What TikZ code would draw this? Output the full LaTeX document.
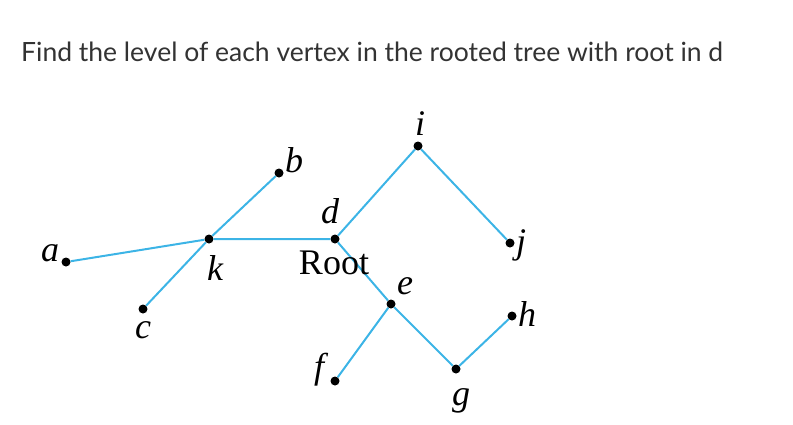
\documentclass[tikz,border=0pt]{standalone}
\usepackage{fontspec}
\setmainfont{Liberation Serif}
\newfontfamily\lato{Lato}
\definecolor{edge}{RGB}{60,180,230}
\begin{document}
\begin{tikzpicture}[x=1pt,y=-1pt,
  vtx/.style={circle,fill=black,inner sep=0pt,minimum size=9pt},
  lab/.style={font=\fontsize{36}{38}\selectfont\itshape,inner sep=0pt},
  edg/.style={edge,line width=2pt}]
\useasboundingbox (0,0) rectangle (793,424);
\node[anchor=west,font=\lato\fontsize{26.5}{30}\selectfont,text=black!80,inner sep=0pt] (t) at (21,52) {Find the level of each vertex in the rooted tree with root in d};
\node[vtx] (a) at (66,262) {};
\node[vtx] (k) at (209,239) {};
\node[vtx] (b) at (279,173) {};
\node[vtx] (c) at (143,309) {};
\node[vtx] (d) at (335,239) {};
\node[vtx] (i) at (418,146) {};
\node[vtx] (j) at (510,243) {};
\node[vtx] (e) at (391,304) {};
\node[vtx] (f) at (335,381) {};
\node[vtx] (g) at (456,369) {};
\node[vtx] (h) at (512,316) {};
\draw[edg] (a)--(k) (k)--(b) (k)--(c) (k)--(d) (d)--(i) (i)--(j) (d)--(e) (e)--(g) (e)--(f) (g)--(h);
\node[lab] (la) at (50,253) {a};
\node[lab] (lb) at (294,160) {b};
\node[lab] (lc) at (143,330) {c};
\node[lab] (lk) at (215,268) {k};
\node[lab] (ld) at (330,211) {d};
\node[font=\fontsize{36}{38}\selectfont,inner sep=0pt] (lr) at (334,263) {Root};
\node[lab] (li) at (420,124) {i};
\node[lab] (lj) at (521,245) {j};
\node[lab] (le) at (405,286) {e};
\node[lab] (lf) at (319,370) {f};
\node[lab] (lg) at (461,401) {g};
\node[lab] (lh) at (527,314) {h};
\end{tikzpicture}
\end{document}
